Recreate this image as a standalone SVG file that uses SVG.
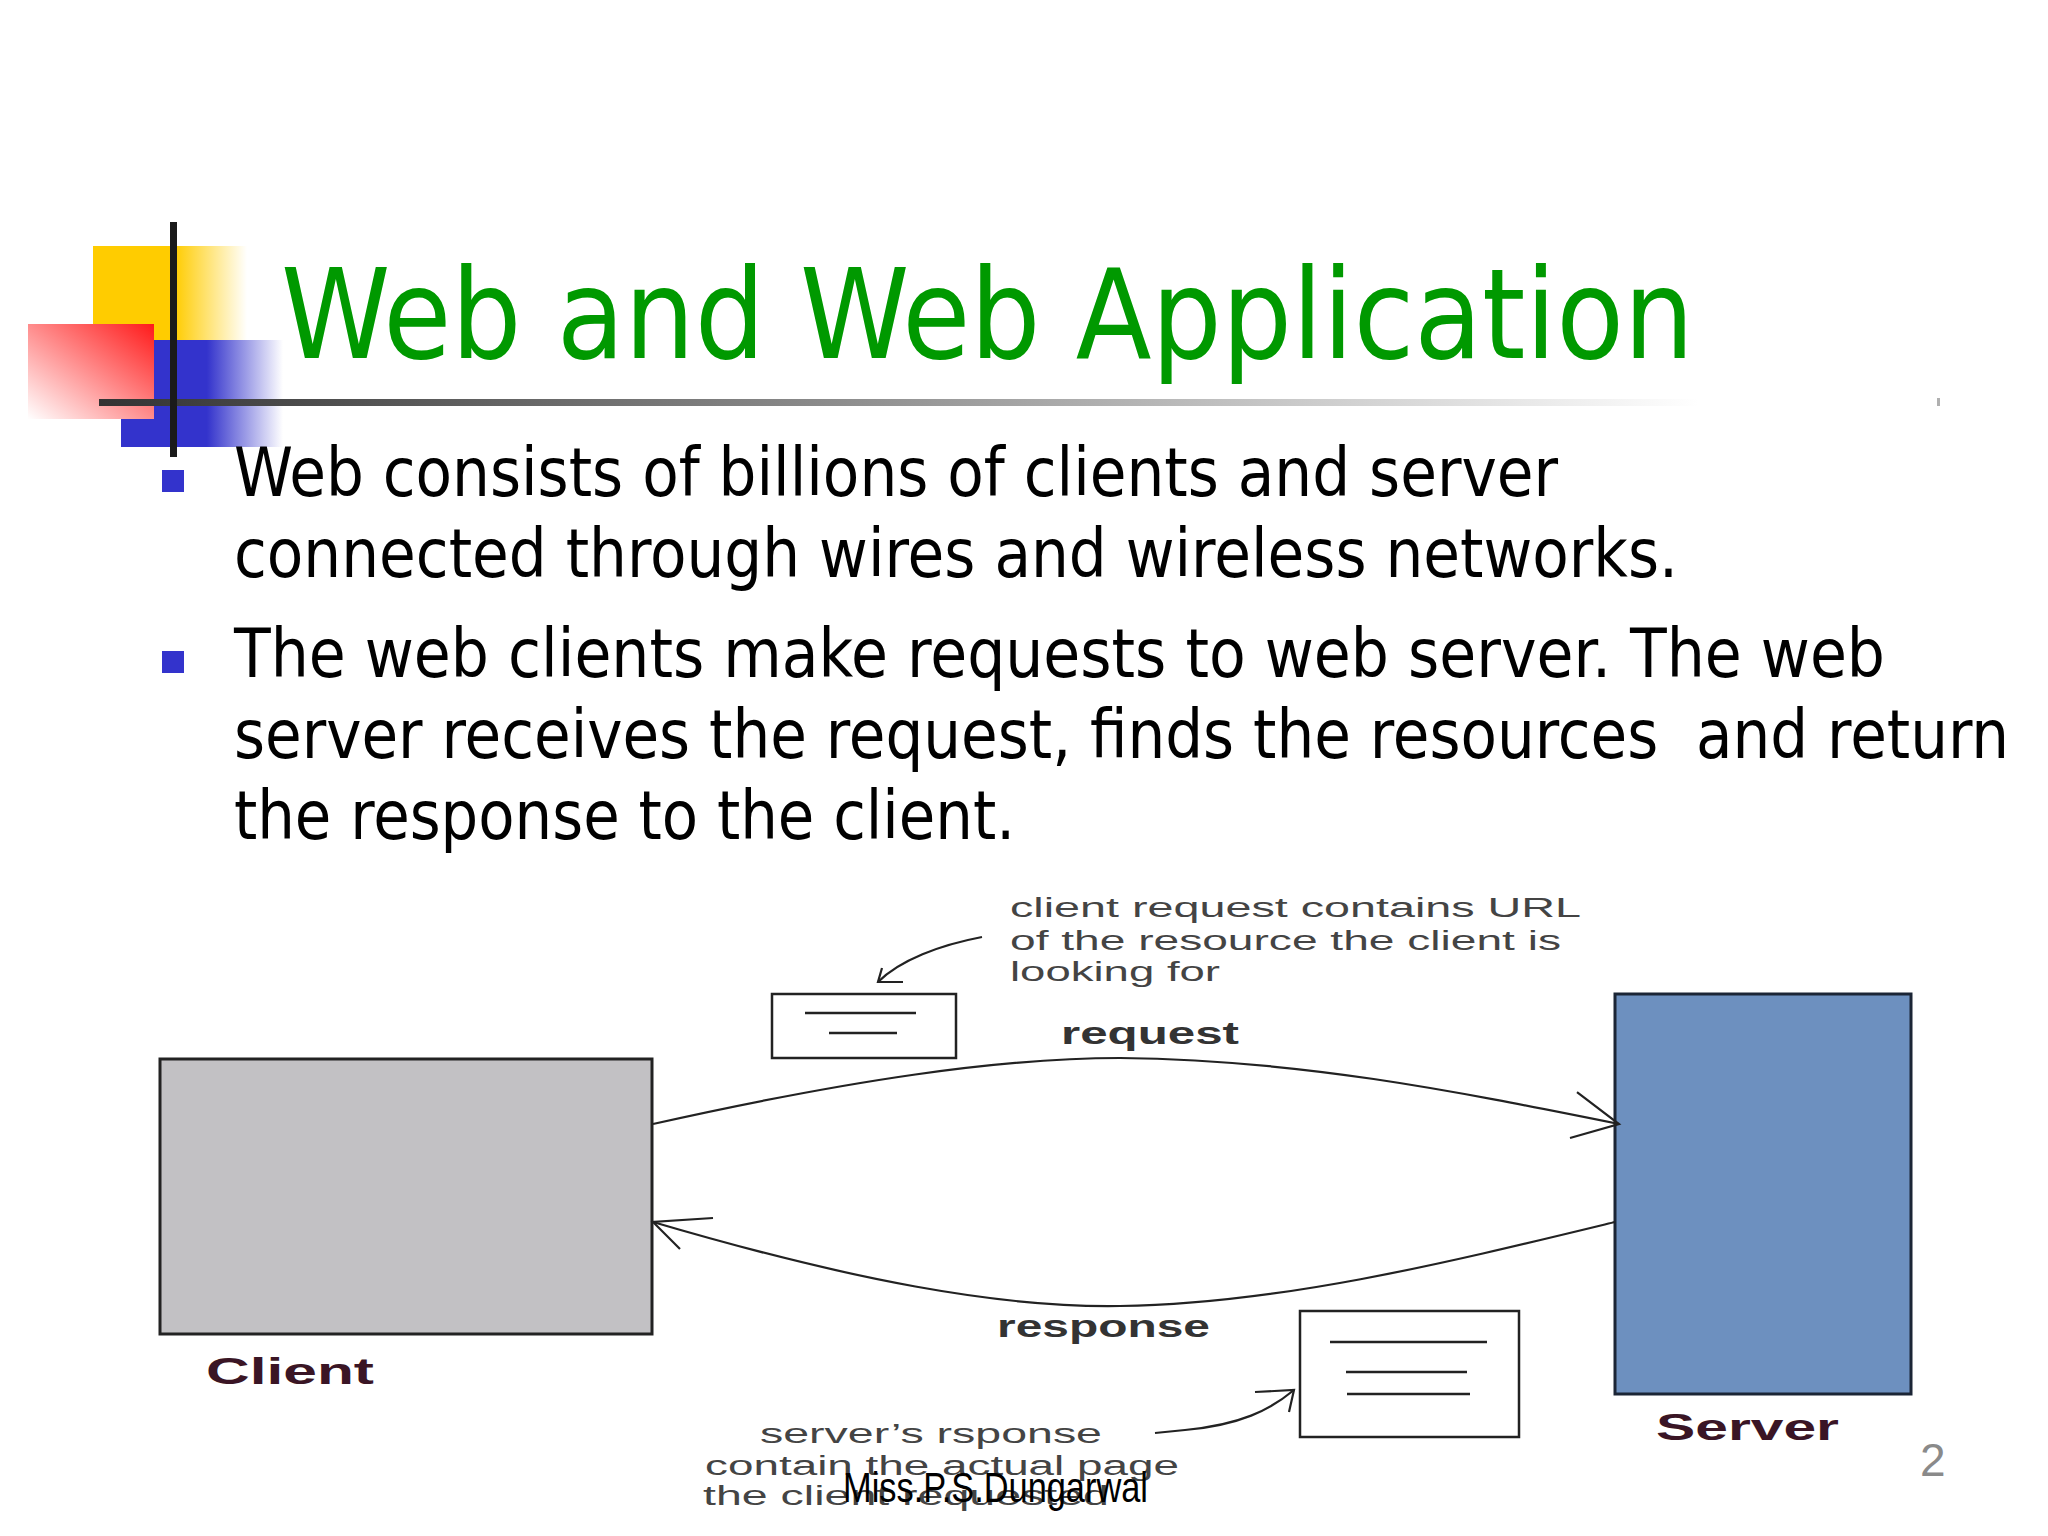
<svg xmlns="http://www.w3.org/2000/svg" width="2048" height="1536" viewBox="0 0 2048 1536">
<defs>
<linearGradient id="gYellow" x1="0" y1="0" x2="1" y2="0">
<stop offset="0" stop-color="#ffcc00"/>
<stop offset="0.53" stop-color="#ffcc00"/>
<stop offset="1" stop-color="#ffcc00" stop-opacity="0"/>
</linearGradient>
<linearGradient id="gBlue" x1="0" y1="0" x2="1" y2="0">
<stop offset="0" stop-color="#3333cc"/>
<stop offset="0.53" stop-color="#3333cc"/>
<stop offset="1" stop-color="#3333cc" stop-opacity="0"/>
</linearGradient>
<linearGradient id="gRed" x1="1" y1="0" x2="0" y2="1">
<stop offset="0" stop-color="#ff1a1a"/>
<stop offset="1" stop-color="#ffffff"/>
</linearGradient>
<linearGradient id="gRule" x1="0" y1="0" x2="1" y2="0">
<stop offset="0" stop-color="#333333"/>
<stop offset="0.45" stop-color="#8a8a8a"/>
<stop offset="1" stop-color="#ffffff"/>
</linearGradient>
<style>
.title{font-family:"DejaVu Sans Condensed","DejaVu Sans","Liberation Sans",sans-serif;font-stretch:condensed;font-size:124px;fill:#009900}
.body{font-family:"DejaVu Sans Condensed","DejaVu Sans","Liberation Sans",sans-serif;font-stretch:condensed;font-size:67px;fill:#000000}
.bullet{fill:#3333cc}
.box{stroke:#222222;stroke-width:3}
.doc{fill:#ffffff;stroke:#222222;stroke-width:2.5}
.docline{stroke:#222222;stroke-width:2.5}
.lbl{font-family:"Liberation Sans",Arial,sans-serif;font-weight:bold;font-size:36px;fill:#3a1525}
.conlbl{font-family:"Liberation Sans",Arial,sans-serif;font-weight:bold;font-size:32px;fill:#333333}
.note{font-family:"Liberation Sans",Arial,sans-serif;font-size:27px;fill:#444444}
.con{fill:none;stroke:#222222;stroke-width:2.2}
.foot{font-family:"Liberation Sans",Arial,sans-serif;font-size:42px;fill:#000000}
.num{font-family:"Liberation Sans",Arial,sans-serif;font-size:46px;fill:#8a8a8a}
</style>
</defs>
<rect width="2048" height="1536" fill="#ffffff"/>
<g id="decoration">
<rect x="93" y="246" width="154" height="94" fill="url(#gYellow)"/>
<rect x="121" y="340" width="162" height="107" fill="url(#gBlue)"/>
<rect x="28" y="324" width="126" height="95" fill="url(#gRed)"/>
<rect x="99" y="399" width="1600" height="7" fill="url(#gRule)"/>
<rect x="170" y="222" width="7" height="235" fill="#1a1a1a"/>
<rect x="1937" y="398" width="3" height="8" fill="#b0b0b0"/>
</g>
<g id="title">
<text class="title" x="281" y="358" textLength="1413" lengthAdjust="spacingAndGlyphs">Web and Web Application</text>
</g>
<g id="bullets">
<rect class="bullet" x="162" y="470" width="22" height="22"/>
<rect class="bullet" x="162" y="651" width="22" height="22"/>
<text class="body" x="234" y="496" textLength="1324" lengthAdjust="spacingAndGlyphs">Web consists of billions of clients and server</text>
<text class="body" x="234" y="577" textLength="1444" lengthAdjust="spacingAndGlyphs">connected through wires and wireless networks.</text>
<text class="body" x="234" y="677" textLength="1651" lengthAdjust="spacingAndGlyphs">The web clients make requests to web server. The web</text>
<text class="body" x="234" y="758" textLength="1775" lengthAdjust="spacingAndGlyphs" xml:space="preserve">server receives the request, finds the resources  and return</text>
<text class="body" x="234" y="839" textLength="781" lengthAdjust="spacingAndGlyphs">the response to the client.</text>
</g>
<g id="client">
<rect class="box" x="160" y="1059" width="492" height="275" fill="#c2c1c4"/>
<text class="lbl" x="206" y="1384" textLength="168" lengthAdjust="spacingAndGlyphs">Client</text>
</g>
<g id="server">
<rect x="1615" y="994" width="296" height="400" fill="#6d90bf" stroke="#1b2535" stroke-width="3"/>
<text class="lbl" x="1656" y="1440" textLength="183" lengthAdjust="spacingAndGlyphs">Server</text>
</g>
<g id="request-doc">
<rect class="doc" x="772" y="994" width="184" height="64"/>
<line class="docline" x1="805" y1="1013" x2="916" y2="1013"/>
<line class="docline" x1="829" y1="1033" x2="897" y2="1033"/>
<text class="note" x="1010" y="917" textLength="571" lengthAdjust="spacingAndGlyphs">client request contains URL</text>
<text class="note" x="1010" y="950" textLength="551" lengthAdjust="spacingAndGlyphs">of the resource the client is</text>
<text class="note" x="1010" y="981" textLength="210" lengthAdjust="spacingAndGlyphs">looking for</text>
</g>
<g id="response-doc">
<rect class="doc" x="1300" y="1311" width="219" height="126"/>
<line class="docline" x1="1330" y1="1342" x2="1487" y2="1342"/>
<line class="docline" x1="1346" y1="1372" x2="1467" y2="1372"/>
<line class="docline" x1="1347" y1="1394" x2="1470" y2="1394"/>
<text class="note" x="760" y="1443" textLength="342" lengthAdjust="spacingAndGlyphs">server’s rsponse</text>
<text class="note" x="705" y="1475" textLength="474" lengthAdjust="spacingAndGlyphs">contain the actual page</text>
<text class="note" x="703" y="1505" textLength="406" lengthAdjust="spacingAndGlyphs">the client requested</text>
</g>
<g id="connectors">
<path class="con" d="M 653 1124 C 850 1080, 1000 1058, 1120 1058 C 1300 1060, 1450 1090, 1619 1124"/>
<path class="con" d="M 1577 1092 L 1619 1124 L 1570 1138"/>
<text class="conlbl" x="1061" y="1044" textLength="178" lengthAdjust="spacingAndGlyphs">request</text>
<path class="con" d="M 1615 1222 C 1450 1262, 1280 1304, 1120 1306 C 1000 1308, 850 1280, 653 1222"/>
<path class="con" d="M 713 1218 L 653 1222 L 680 1249"/>
<text class="conlbl" x="997" y="1337" textLength="213" lengthAdjust="spacingAndGlyphs">response</text>
<path class="con" d="M 982 937 C 940 945, 900 960, 878 982"/>
<path class="con" d="M 903 982 L 878 982 L 882 968"/>
<path class="con" d="M 1155 1433 L 1185 1430 C 1240 1425, 1270 1410, 1294 1390"/>
<path class="con" d="M 1255 1392 L 1294 1390 L 1289 1412"/>
</g>
<g id="footer">
<text class="foot" x="843" y="1502" textLength="305" lengthAdjust="spacingAndGlyphs">Miss.P.S.Dungarwal</text>
<text class="num" x="1920" y="1476">2</text>
</g>
</svg>
